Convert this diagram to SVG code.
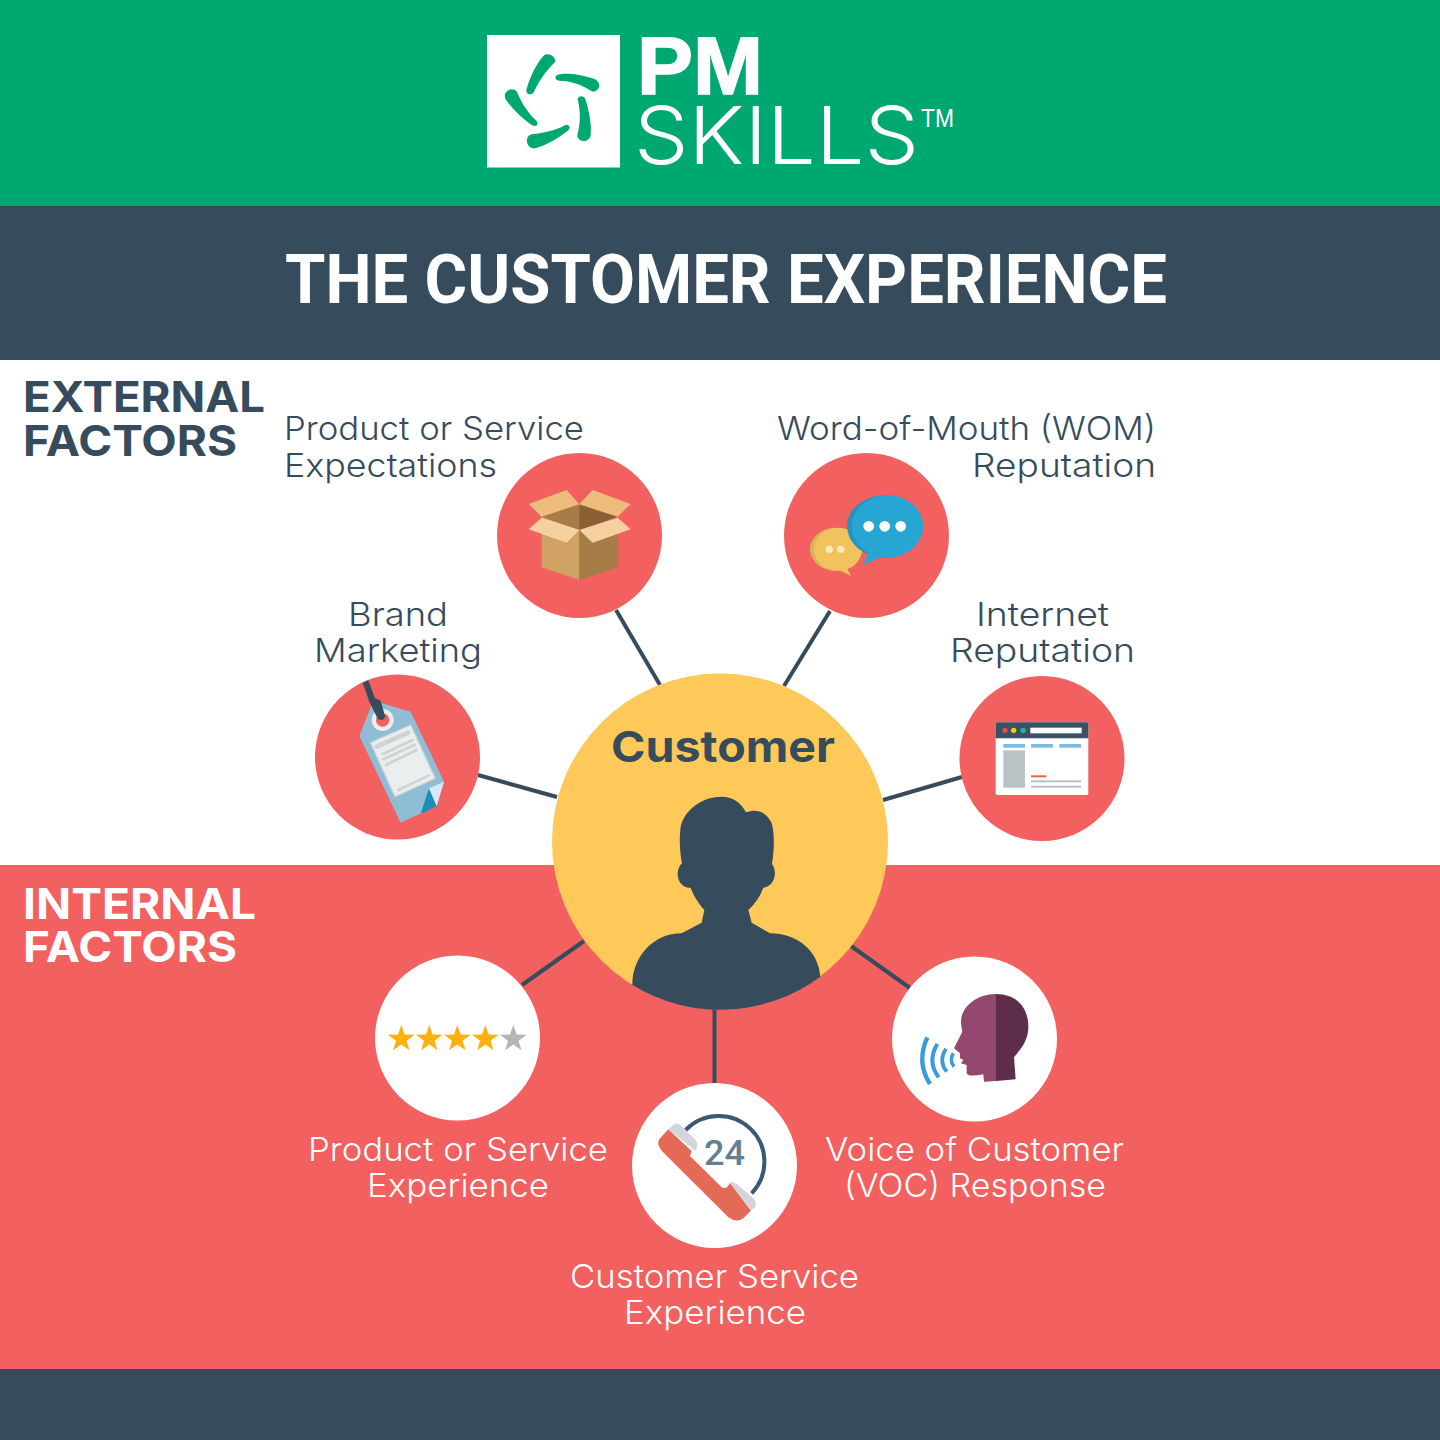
<svg xmlns="http://www.w3.org/2000/svg" xmlns:xlink="http://www.w3.org/1999/xlink" width="1440" height="1440" viewBox="0 0 1440 1440">
<style>
.lbl{font-family:"Inter","Liberation Sans",sans-serif;font-weight:300;font-size:33px;fill:#364C5C}
.lw{fill:#fff}
.hd{font-family:"Inter","Liberation Sans",sans-serif;font-weight:700;font-size:43px;fill:#364C5C}
.coral{fill:#F26060}
.white{fill:#fff}
.conn{stroke:#364C5C;stroke-width:4;fill:none}
</style>
<defs>
<path id="star" d="M0-14L3.3-4.5 13.3-4.3 5.3 1.7 8.2 11.3 0 5.6-8.2 11.3-5.3 1.7-13.3-4.3-3.3-4.5Z"/>
</defs>
<g id="bands">
<rect width="1440" height="206" fill="#00A871"/>
<rect y="206" width="1440" height="154" fill="#364C5C"/>
<rect y="360" width="1440" height="505" fill="#fff"/>
<rect y="865" width="1440" height="504" fill="#F26060"/>
<rect y="1369" width="1440" height="71" fill="#364C5C"/>
</g>
<g id="logo">
<rect x="487" y="35" width="133" height="132.500" fill="#fff"/>
<g transform="translate(480 20) scale(.33333)" fill="#00A871">
<path d="M139 210C150 170 170 130 190 108C200 96 226 105 226 125C200 150 175 185 162 215C155 228 138 225 139 210Z"/>
<path d="M226 170C232 155 300 160 345 178C365 188 360 215 338 215C300 190 265 182 238 182C228 180 226 175 226 170Z"/>
<path d="M293 238C295 226 310 226 315 235C330 280 335 320 332 345C328 370 292 368 292 345C302 310 302 275 293 238Z"/>
<path d="M262 314C272 318 270 328 262 333C230 358 200 375 165 385C140 388 130 350 155 343C190 340 225 332 255 316Z"/>
<path d="M172 308C175 318 165 320 155 315C125 295 95 265 77 238C65 215 100 195 112 218C125 250 145 280 170 303Z"/>
</g>
<text font-family="Inter,'Liberation Sans',sans-serif" font-size="80" fill="#fff">
<tspan x="637" y="94" font-family="'Liberation Sans',sans-serif" font-weight="700" font-size="81" stroke="#fff" stroke-width="1.500" textLength="126" lengthAdjust="spacingAndGlyphs">PM</tspan>
<tspan x="634" y="164" font-weight="300" textLength="285" lengthAdjust="spacingAndGlyphs">SKILLS</tspan>
</text>
<text x="921" y="127" font-family="'Liberation Sans',sans-serif" font-size="25" fill="#fff" textLength="33" lengthAdjust="spacingAndGlyphs">TM</text>
</g>
<text id="title" x="285" y="303" font-family="Roboto,'Liberation Sans',sans-serif" font-weight="700" font-size="68" fill="#fff" textLength="882" lengthAdjust="spacingAndGlyphs">THE CUSTOMER EXPERIENCE</text>
<g id="section-external">
<text class="hd"><tspan x="23" y="412" textLength="242" lengthAdjust="spacingAndGlyphs">EXTERNAL</tspan><tspan x="23" y="456" textLength="214" lengthAdjust="spacingAndGlyphs">FACTORS</tspan></text>
</g>
<g id="section-internal">
<text class="hd" style="fill:#fff"><tspan x="23" y="919" textLength="233" lengthAdjust="spacingAndGlyphs">INTERNAL</tspan><tspan x="23" y="962" textLength="214" lengthAdjust="spacingAndGlyphs">FACTORS</tspan></text>
</g>
<g id="connectors" class="conn">
<line x1="616" y1="610" x2="660" y2="685"/>
<line x1="830" y1="611" x2="784" y2="686"/>
<line x1="478" y1="775" x2="557" y2="797"/>
<line x1="962" y1="777" x2="883" y2="800"/>
<line x1="584" y1="941" x2="522" y2="985"/>
<line x1="851" y1="946" x2="910" y2="988"/>
<line x1="714.500" y1="1005" x2="714.500" y2="1085"/>
</g>
<g id="customer">
<circle cx="720" cy="841.500" r="168" fill="#FEC958"/>
<text x="611" y="762" font-family="Inter,'Liberation Sans',sans-serif" font-weight="700" font-size="43" fill="#364C5C" textLength="224" lengthAdjust="spacingAndGlyphs">Customer</text>
<path transform="translate(600 780) scale(.33333)" fill="#364C5C" d="M97 615C97 530 160 460 245 460L305 428L313 390C295 370 280 345 272 323C250 325 232 305 233 280C234 265 240 255 246 250C238 210 238 170 242 140C255 85 310 50 365 50C400 50 425 70 438 97C470 85 500 95 515 130C525 165 522 215 516 252C525 262 528 285 520 300C515 315 500 322 490 323C480 350 465 372 445 390L455 428L510 460C590 460 655 510 661 590A504 504 0 0 1 97 615Z"/>
</g>
<g id="product-expectations">
<circle class="coral" cx="579.500" cy="535.500" r="82.500"/>
<g transform="translate(490 450) scale(.33333)">
<path fill="#D0A264" d="M155 200L268 240V390L155 352Z"/>
<path fill="#A67C47" d="M268 240L383 205V352L268 390Z"/>
<path fill="#A87C48" d="M155 200L268 163V240Z"/>
<path fill="#8A6135" d="M268 163L383 200L268 240Z"/>
<path fill="#EDBB7B" d="M116 162L230 120L268 163L155 200Z"/>
<path fill="#EDBB7B" d="M268 163L308 120L422 162L383 200Z"/>
<path fill="#F5D1A0" d="M155 203L268 240L230 278L116 238Z"/>
<path fill="#F5D1A0" d="M268 240L383 203L422 238L308 278Z"/>
</g>
<text class="lbl"><tspan x="284" y="440" textLength="300" lengthAdjust="spacingAndGlyphs">Product or Service</tspan><tspan x="284" y="477" textLength="213" lengthAdjust="spacingAndGlyphs">Expectations</tspan></text>
</g>
<g id="wom-reputation">
<circle class="coral" cx="866.500" cy="535.500" r="82.500"/>
<g transform="translate(780 450) scale(.33333)">
<ellipse cx="168" cy="298" rx="78" ry="65" fill="#D9B25A"/>
<ellipse cx="174" cy="298" rx="72" ry="65" fill="#F0C35E"/>
<path fill="#F0C35E" d="M178 360L213 378L200 352Z"/>
<circle cx="148" cy="298" r="11" fill="#F8E9BE"/>
<circle cx="182" cy="298" r="11" fill="#F8E9BE"/>
<ellipse cx="315" cy="229" rx="114" ry="94" fill="#2593BD"/>
<ellipse cx="322" cy="229" rx="107" ry="94" fill="#27A6D3"/>
<path fill="#27A6D3" d="M265 305L250 345L300 322Z"/>
<circle cx="266" cy="229" r="16" fill="#fff"/>
<circle cx="314" cy="229" r="16" fill="#fff"/>
<circle cx="362" cy="229" r="16" fill="#fff"/>
</g>
<text class="lbl"><tspan x="777" y="440" textLength="379" lengthAdjust="spacingAndGlyphs">Word-of-Mouth (WOM)</tspan><tspan x="972" y="477" textLength="184" lengthAdjust="spacingAndGlyphs">Reputation</tspan></text>
</g>
<g id="brand-marketing">
<circle class="coral" cx="397.500" cy="757" r="82.500"/>
<g transform="translate(310 670) scale(.33333)">
<path fill="#90BDD6" d="M190 92L302 125L402 335L380 408L272 458L148 198Z"/>
<path fill="#1A8FB5" d="M357 355L380 408L332 432Z"/>
<path fill="#D5E8F5" d="M402 335L380 408L357 355Z"/>
<circle cx="218" cy="150" r="33" fill="#EBEEEF"/>
<circle cx="218" cy="150" r="20" fill="#F26060"/>
<path fill="#EBEEEF" stroke="#D3D6D6" stroke-width="4" stroke-linejoin="round" d="M182 218L302 165L375 325L255 380Z"/>
<g stroke="#CFD3D3" stroke-linecap="round" fill="none">
<path stroke-width="14" d="M200 230L295 188"/>
<path stroke-width="8" d="M218 252L308 210M220 268L315 224M228 285L320 240M265 360L355 317"/>
</g>
<path fill="#364C5C" d="M158 38L175 31L195 85L212 92L226 142Q218 155 203 146L178 95Z"/>
</g>
<text class="lbl"><tspan x="348" y="626" textLength="100" lengthAdjust="spacingAndGlyphs">Brand</tspan><tspan x="314" y="662" textLength="168" lengthAdjust="spacingAndGlyphs">Marketing</tspan></text>
</g>
<g id="internet-reputation">
<circle class="coral" cx="1042" cy="758.500" r="82.500"/>
<g transform="translate(955 670) scale(.33333)">
<rect x="122" y="157" width="278" height="218" rx="5" fill="#fff"/>
<path fill="#3A5166" d="M127 157H395Q400 157 400 162V205H122V162Q122 157 127 157Z"/>
<circle cx="150" cy="181" r="8" fill="#E3543F"/>
<circle cx="176" cy="181" r="8" fill="#FFC60A"/>
<circle cx="204" cy="181" r="8" fill="#2BB597"/>
<rect x="226" y="173" width="154" height="17" fill="#fff"/>
<g fill="#7ABBE5">
<rect x="145" y="222" width="65" height="11"/>
<rect x="228" y="222" width="66" height="11"/>
<rect x="313" y="222" width="65" height="11"/>
</g>
<g fill="#B9C2C4">
<rect x="145" y="241" width="65" height="112"/>
<rect x="228" y="331" width="150" height="6"/>
<rect x="228" y="347" width="150" height="6"/>
</g>
<rect x="228" y="316" width="46" height="6" fill="#E8604C"/>
</g>
<text class="lbl"><tspan x="976" y="626" textLength="133" lengthAdjust="spacingAndGlyphs">Internet</tspan><tspan x="950" y="662" textLength="185" lengthAdjust="spacingAndGlyphs">Reputation</tspan></text>
</g>
<g id="product-experience">
<circle class="white" cx="457.500" cy="1038" r="82.500"/>
<g fill="#FDB010">
<use xlink:href="#star" href="#star" x="401.300" y="1039"/>
<use xlink:href="#star" href="#star" x="429.300" y="1039"/>
<use xlink:href="#star" href="#star" x="457.300" y="1039"/>
<use xlink:href="#star" href="#star" x="485.300" y="1039"/>
</g>
<use xlink:href="#star" href="#star" x="513.300" y="1039" fill="#B5B5B5"/>
<text class="lbl" style="fill:#fff"><tspan x="308" y="1161" textLength="300" lengthAdjust="spacingAndGlyphs">Product or Service</tspan><tspan x="367" y="1197" textLength="182" lengthAdjust="spacingAndGlyphs">Experience</tspan></text>
</g>
<g id="customer-service">
<circle class="white" cx="714.500" cy="1165.500" r="82.500"/>
<g transform="translate(625 1080) scale(.33333)">
<path fill="none" stroke="#3A5A73" stroke-width="12" d="M182 150A137 137 0 1 1 380 340"/>
<path fill="#E56A55" d="M130 148L200 213L195 228L290 322Q305 330 315 308L378 392L355 415Q335 430 310 412L110 212Q92 190 105 175Z"/>
<path fill="#D3D5DB" d="M130 148L148 132Q158 128 168 137L212 180Q222 192 212 213Z"/>
<path fill="#D3D5DB" d="M315 308Q322 303 335 312L385 355Q398 368 390 382L378 392Z"/>
</g>
<text x="704" y="1165" font-family="Roboto,'Liberation Sans',sans-serif" font-weight="500" font-size="35" fill="#657E92" textLength="41" lengthAdjust="spacingAndGlyphs">24</text>
<text class="lbl" style="fill:#fff"><tspan x="570" y="1288" textLength="289" lengthAdjust="spacingAndGlyphs">Customer Service</tspan><tspan x="624" y="1324" textLength="182" lengthAdjust="spacingAndGlyphs">Experience</tspan></text>
</g>
<g id="voc-response">
<circle class="white" cx="974.500" cy="1039" r="82.500"/>
<g transform="translate(885 950) scale(.33333)">
<path fill="#93476F" d="M333 132C270 132 228 175 228 215C228 230 232 240 232 245L207 295L225 310L225 325L235 330L228 340L245 345L245 370Q250 382 295 373L297 395L333 393Z"/>
<path fill="#5F2D4C" d="M333 132C400 132 432 180 430 235C428 280 400 305 387 322L392 388L333 393Z"/>
<g fill="none" stroke="#3A9BDC">
<path stroke-width="13" d="M127 262C105 310 105 355 135 402"/>
<path stroke-width="12" d="M157 282C137 315 137 350 161 382"/>
<path stroke-width="11" d="M183 296C167 320 167 342 185 365"/>
<path stroke-width="11" d="M205 310C197 322 197 338 207 350"/>
</g>
</g>
<text class="lbl" style="fill:#fff"><tspan x="825" y="1161" textLength="299" lengthAdjust="spacingAndGlyphs">Voice of Customer</tspan><tspan x="844" y="1197" textLength="262" lengthAdjust="spacingAndGlyphs">(VOC) Response</tspan></text>
</g>
</svg>
